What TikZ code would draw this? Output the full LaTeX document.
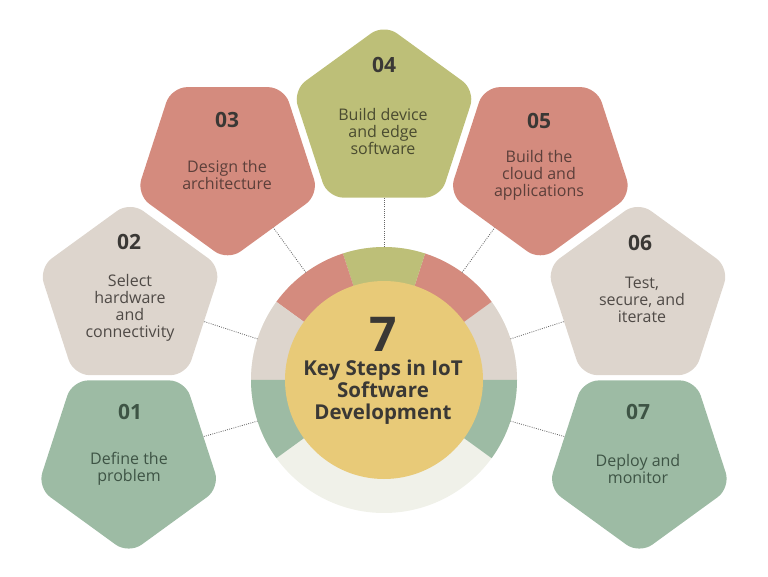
\documentclass[tikz,border=0pt]{standalone}
\usepackage{fontspec}
\setmainfont{Open Sans}
\usetikzlibrary{shapes.geometric}

\definecolor{sage}{HTML}{9DBBA4}
\definecolor{sand}{HTML}{DDD5CD}
\definecolor{clay}{HTML}{D48B7E}
\definecolor{moss}{HTML}{BDBF78}
\definecolor{mustard}{HTML}{E8CA78}
\definecolor{pale}{HTML}{F0F1E9}
\definecolor{inkdark}{HTML}{3A3835}
\definecolor{inksage}{HTML}{3E5445}
\definecolor{inksand}{HTML}{4F4A46}
\definecolor{inkclay}{HTML}{5C3F3A}
\definecolor{inkmoss}{HTML}{4A4B30}

\tikzset{
	penta/.style={regular polygon, regular polygon sides=5, minimum size=192pt,
		inner sep=0pt, outer sep=0pt, rounded corners=16pt},
	stepnum/.style={font=\fontsize{21}{21}\selectfont\bfseries, text=#1},
	steptxt/.style={font=\fontsize{16}{17}\selectfont, align=center, text=#1},
	link/.style={draw=black!60, line width=0.8pt, dash pattern=on 0.9pt off 1.3pt},
}

\begin{document}
\begin{tikzpicture}[x=1pt, y=1pt]
			%%%%% START %%%%%
			\useasboundingbox (0, 0) rectangle (768, 576);
			\coordinate (C) at (384, 196);
			
			% ring
			\fill[pale] (C) circle (133pt);
			\fill[sand] (C) -- ++(0:133pt) arc (0:36:133pt) -- cycle;
			\fill[clay] (C) -- ++(36:133pt) arc (36:72:133pt) -- cycle;
			\fill[moss] (C) -- ++(72:133pt) arc (72:108:133pt) -- cycle;
			\fill[clay] (C) -- ++(108:133pt) arc (108:144:133pt) -- cycle;
			\fill[sand] (C) -- ++(144:133pt) arc (144:180:133pt) -- cycle;
			\fill[sage] (C) -- ++(180:133pt) arc (180:216:133pt) -- cycle;
			\fill[sage] (C) -- ++(324:133pt) arc (324:360:133pt) -- cycle;
			\fill[mustard] (C) circle (99pt);
			
			\path (C) ++(198:133pt) coordinate (r1);
			\path (C) ++(162:133pt) coordinate (r2);
			\path (C) ++(126:133pt) coordinate (r3);
			\path (C) ++(90:133pt) coordinate (r4);
			\path (C) ++(54:133pt) coordinate (r5);
			\path (C) ++(18:133pt) coordinate (r6);
			\path (C) ++(342:133pt) coordinate (r7);
			
			% pentagons
			\path (C) ++(197:267pt) node[penta, fill=sage, rotate=108] (p1) {};
			\path (C) ++(162:267pt) node[penta, fill=sand, rotate=72] (p2) {};
			\path (C) ++(126:266pt) node[penta, fill=clay, rotate=36] (p3) {};
			\path (C) ++(90:260pt) node[penta, fill=moss] (p4) {};
			\path (C) ++(54:266pt) node[penta, fill=clay, rotate=-36] (p5) {};
			\path (C) ++(18:267pt) node[penta, fill=sand, rotate=-72] (p6) {};
			\path (C) ++(343:267pt) node[penta, fill=sage, rotate=-108] (p7) {};
			
			\draw[link] (r1) -- (p1);
			\draw[link] (r2) -- (p2);
			\draw[link] (r3) -- (p3);
			\draw[link] (r4) -- (p4);
			\draw[link] (r5) -- (p5);
			\draw[link] (r6) -- (p6);
			\draw[link] (r7) -- (p7);
			
			% labels
			\node[stepnum=inksage] (n1) at (130, 164) {01};
			\node[steptxt=inksage] (t1) at (129, 107.5) {Define the\\problem};
			
			\node[stepnum=inkdark] (n2) at (129, 334) {02};
			\node[steptxt=inksand] (t2) at (130, 268.5) {Select\\hardware\\and\\connectivity};
			
			\node[stepnum=inkdark] (n3) at (227, 456) {03};
			\node[steptxt=inkclay] (t3) at (227, 400.5) {Design the\\architecture};
			
			\node[stepnum=inkdark] (n4) at (384, 511) {04};
			\node[steptxt=inkmoss] (t4) at (383, 444.5) {Build device\\and edge\\software};
			
			\node[stepnum=inkdark] (n5) at (539, 455) {05};
			\node[steptxt=inkclay] (t5) at (539, 400.5) {Build the\\cloud and\\applications};
			
			\node[stepnum=inkdark] (n6) at (640, 333) {06};
			\node[steptxt=inksand] (t6) at (642, 276) {Test,\\secure, and\\iterate};
			
			\node[stepnum=inksage] (n7) at (638, 164) {07};
			\node[steptxt=inksage] (t7) at (638, 107.5) {Deploy and\\monitor};
			
			% centre
			\node[font=\fontsize{48}{48}\selectfont\bfseries, text=inkdark] (seven) at (383, 242) {7};
			\node[font=\fontsize{20.5}{22}\selectfont\bfseries, text=inkdark, align=center] (title) at (383, 184)
				{Key Steps in IoT\\Software\\Development};
			
			%%%%% END %%%%%
\end{tikzpicture}
\end{document}
